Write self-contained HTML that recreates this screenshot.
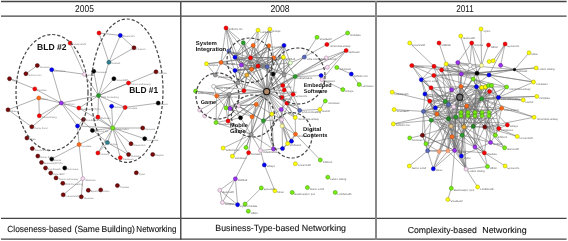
<!DOCTYPE html>
<html><head><meta charset="utf-8"><title>Networking</title>
<style>
html,body{margin:0;padding:0;background:#fff;}
text{text-rendering:geometricPrecision;}
body{width:568px;height:241px;overflow:hidden;position:relative;}
svg{position:absolute;left:0;top:0;display:block;}
.l1{fill:#7a7a7a;font-size:2.5px;}
.h{font-family:"Liberation Sans",Arial,sans-serif;fill:#111;}
.t{font-family:"Liberation Sans",Arial,sans-serif;fill:#111;stroke:#111;stroke-width:0.1px;}
</style></head><body>
<svg width="568" height="241" viewBox="0 0 568 241">
<rect width="568" height="241" fill="#fff"/>
<g stroke="#6e6e6e" stroke-width="0.55" fill="none">
<line x1="37.3" y1="65.5" x2="25.9" y2="73.7"/>
<line x1="51.7" y1="69.7" x2="84.4" y2="74.3"/>
<line x1="70.1" y1="43.1" x2="84.4" y2="74.3"/>
<line x1="99.0" y1="33.0" x2="120.3" y2="35.4"/>
<line x1="99.0" y1="33.0" x2="108.9" y2="62.3"/>
<line x1="120.3" y1="35.4" x2="108.9" y2="62.3"/>
<line x1="120.3" y1="35.4" x2="134.0" y2="47.8"/>
<line x1="134.0" y1="47.8" x2="108.9" y2="62.3"/>
<line x1="108.9" y1="62.3" x2="98.5" y2="95.6"/>
<line x1="9.5" y1="78.7" x2="34.8" y2="88.9"/>
<line x1="34.8" y1="88.9" x2="61.3" y2="103.0"/>
<line x1="38.8" y1="97.9" x2="8.0" y2="109.8"/>
<line x1="38.8" y1="97.9" x2="61.3" y2="103.0"/>
<line x1="38.8" y1="97.9" x2="39.3" y2="115.8"/>
<line x1="61.3" y1="103.0" x2="39.3" y2="115.8"/>
<line x1="61.3" y1="103.0" x2="31.8" y2="126.8"/>
<line x1="8.0" y1="109.8" x2="31.8" y2="126.8"/>
<line x1="61.3" y1="103.0" x2="51.7" y2="69.7"/>
<line x1="61.3" y1="103.0" x2="98.5" y2="95.6"/>
<line x1="98.5" y1="95.6" x2="93.7" y2="71.3"/>
<line x1="98.5" y1="95.6" x2="113.9" y2="78.7"/>
<line x1="98.5" y1="95.6" x2="128.5" y2="83.0"/>
<line x1="98.5" y1="95.6" x2="156.0" y2="71.8"/>
<line x1="98.5" y1="95.6" x2="125.1" y2="107.4"/>
<line x1="98.5" y1="95.6" x2="97.9" y2="117.1"/>
<line x1="98.5" y1="95.6" x2="112.8" y2="128.0"/>
<line x1="98.5" y1="95.6" x2="84.4" y2="74.3"/>
<line x1="125.1" y1="107.4" x2="158.2" y2="103.1"/>
<line x1="125.1" y1="107.4" x2="112.8" y2="128.0"/>
<line x1="112.8" y1="128.0" x2="142.7" y2="128.0"/>
<line x1="112.8" y1="128.0" x2="144.7" y2="138.7"/>
<line x1="112.8" y1="128.0" x2="131.0" y2="143.7"/>
<line x1="112.8" y1="128.0" x2="107.4" y2="142.6"/>
<line x1="112.8" y1="128.0" x2="120.3" y2="157.8"/>
<line x1="112.8" y1="128.0" x2="128.6" y2="154.6"/>
<line x1="112.8" y1="128.0" x2="92.4" y2="130.4"/>
<line x1="107.4" y1="142.6" x2="97.9" y2="152.9"/>
<line x1="79.1" y1="144.6" x2="51.7" y2="159.1"/>
<line x1="79.1" y1="144.6" x2="112.8" y2="128.0"/>
<line x1="79.1" y1="144.6" x2="82.8" y2="178.6"/>
<line x1="82.8" y1="178.6" x2="63.2" y2="194.8"/>
<line x1="82.8" y1="178.6" x2="81.3" y2="196.8"/>
<line x1="112.8" y1="128.0" x2="97.9" y2="117.1"/>
<line x1="112.8" y1="128.0" x2="111.6" y2="106.3"/>
<line x1="61.3" y1="103.0" x2="78.9" y2="108.1"/>
<line x1="83.5" y1="119.4" x2="77.5" y2="126.0"/>
<line x1="77.5" y1="126.0" x2="79.1" y2="144.6"/>
<line x1="112.8" y1="128.0" x2="77.5" y2="126.0"/>
<line x1="61.3" y1="103.0" x2="107.4" y2="142.6"/>
<line x1="107.4" y1="142.6" x2="128.6" y2="154.6"/>
<line x1="78.9" y1="108.1" x2="112.8" y2="128.0"/>
<line x1="98.5" y1="95.6" x2="78.9" y2="108.1"/>
<line x1="112.8" y1="128.0" x2="97.9" y2="152.9"/>
<line x1="61.3" y1="103.0" x2="77.5" y2="126.0"/>
<line x1="226.0" y1="27.9" x2="221.0" y2="62.5"/>
<line x1="226.0" y1="27.9" x2="228.7" y2="51.0"/>
<line x1="226.0" y1="27.9" x2="243.3" y2="42.7"/>
<line x1="226.0" y1="27.9" x2="250.5" y2="57.8"/>
<line x1="258.0" y1="30.2" x2="250.5" y2="57.8"/>
<line x1="258.0" y1="30.2" x2="235.0" y2="57.2"/>
<line x1="269.9" y1="29.2" x2="273.6" y2="57.8"/>
<line x1="269.9" y1="29.2" x2="253.2" y2="45.4"/>
<line x1="243.3" y1="42.7" x2="235.0" y2="57.2"/>
<line x1="243.3" y1="42.7" x2="250.5" y2="57.8"/>
<line x1="253.2" y1="45.4" x2="250.5" y2="57.8"/>
<line x1="268.8" y1="45.8" x2="250.5" y2="57.8"/>
<line x1="268.8" y1="45.8" x2="258.0" y2="66.1"/>
<line x1="284.0" y1="45.4" x2="273.6" y2="57.8"/>
<line x1="228.7" y1="51.0" x2="235.0" y2="57.2"/>
<line x1="228.7" y1="51.0" x2="221.0" y2="62.5"/>
<line x1="235.0" y1="57.2" x2="250.5" y2="57.8"/>
<line x1="250.5" y1="57.8" x2="241.4" y2="65.0"/>
<line x1="250.5" y1="57.8" x2="258.0" y2="66.1"/>
<line x1="250.5" y1="57.8" x2="251.6" y2="69.2"/>
<line x1="250.5" y1="57.8" x2="267.2" y2="66.7"/>
<line x1="273.6" y1="57.8" x2="258.0" y2="66.1"/>
<line x1="283.4" y1="57.2" x2="258.0" y2="66.1"/>
<line x1="221.0" y1="62.5" x2="206.5" y2="63.8"/>
<line x1="221.0" y1="62.5" x2="235.0" y2="70.5"/>
<line x1="241.4" y1="65.0" x2="251.6" y2="69.2"/>
<line x1="241.4" y1="65.0" x2="235.0" y2="70.5"/>
<line x1="258.0" y1="66.1" x2="251.6" y2="69.2"/>
<line x1="258.0" y1="66.1" x2="267.2" y2="66.7"/>
<line x1="251.6" y1="69.2" x2="246.8" y2="75.0"/>
<line x1="235.0" y1="70.5" x2="246.8" y2="75.0"/>
<line x1="267.2" y1="66.7" x2="273.0" y2="74.1"/>
<line x1="246.8" y1="75.0" x2="266.7" y2="91.6"/>
<line x1="273.0" y1="74.1" x2="266.7" y2="91.6"/>
<line x1="284.2" y1="75.0" x2="266.7" y2="91.6"/>
<line x1="290.4" y1="62.8" x2="266.7" y2="91.6"/>
<line x1="266.7" y1="91.6" x2="243.9" y2="90.7"/>
<line x1="266.7" y1="91.6" x2="282.7" y2="85.5"/>
<line x1="266.7" y1="91.6" x2="284.2" y2="90.1"/>
<line x1="266.7" y1="91.6" x2="281.7" y2="97.4"/>
<line x1="266.7" y1="91.6" x2="293.1" y2="94.3"/>
<line x1="266.7" y1="91.6" x2="286.9" y2="103.2"/>
<line x1="266.7" y1="91.6" x2="256.3" y2="104.4"/>
<line x1="266.7" y1="91.6" x2="281.3" y2="109.4"/>
<line x1="266.7" y1="91.6" x2="238.0" y2="82.8"/>
<line x1="266.7" y1="91.6" x2="241.4" y2="65.0"/>
<line x1="266.7" y1="91.6" x2="258.0" y2="66.1"/>
<line x1="266.7" y1="91.6" x2="251.6" y2="69.2"/>
<line x1="266.7" y1="91.6" x2="267.2" y2="66.7"/>
<line x1="266.7" y1="91.6" x2="251.2" y2="134.5"/>
<line x1="266.7" y1="91.6" x2="263.4" y2="120.8"/>
<line x1="266.7" y1="91.6" x2="252.0" y2="116.8"/>
<line x1="266.7" y1="91.6" x2="271.9" y2="114.1"/>
<line x1="266.7" y1="91.6" x2="230.1" y2="108.5"/>
<line x1="266.7" y1="91.6" x2="226.0" y2="107.9"/>
<line x1="266.7" y1="91.6" x2="250.5" y2="57.8"/>
<line x1="266.7" y1="91.6" x2="304.3" y2="57.1"/>
<line x1="266.7" y1="91.6" x2="290.4" y2="62.8"/>
<line x1="266.7" y1="91.6" x2="284.0" y2="45.4"/>
<line x1="238.0" y1="82.8" x2="213.6" y2="86.4"/>
<line x1="238.0" y1="82.8" x2="215.3" y2="75.0"/>
<line x1="238.0" y1="82.8" x2="229.2" y2="94.3"/>
<line x1="213.6" y1="86.4" x2="216.7" y2="95.9"/>
<line x1="216.7" y1="95.9" x2="229.2" y2="94.3"/>
<line x1="216.7" y1="95.9" x2="226.0" y2="107.9"/>
<line x1="216.7" y1="95.9" x2="216.0" y2="122.6"/>
<line x1="215.3" y1="75.0" x2="221.0" y2="62.5"/>
<line x1="229.2" y1="94.3" x2="230.1" y2="108.5"/>
<line x1="229.2" y1="94.3" x2="266.7" y2="91.6"/>
<line x1="195.5" y1="91.1" x2="229.2" y2="94.3"/>
<line x1="226.0" y1="107.9" x2="238.4" y2="105.8"/>
<line x1="230.1" y1="108.5" x2="238.4" y2="105.8"/>
<line x1="238.4" y1="105.8" x2="266.7" y2="91.6"/>
<line x1="204.6" y1="115.8" x2="229.2" y2="94.3"/>
<line x1="199.7" y1="110.0" x2="229.2" y2="94.3"/>
<line x1="228.0" y1="121.0" x2="251.2" y2="134.5"/>
<line x1="240.5" y1="117.8" x2="251.2" y2="134.5"/>
<line x1="252.0" y1="116.8" x2="251.2" y2="134.5"/>
<line x1="251.2" y1="134.5" x2="216.0" y2="122.6"/>
<line x1="251.2" y1="134.5" x2="263.4" y2="120.8"/>
<line x1="251.2" y1="134.5" x2="260.6" y2="150.6"/>
<line x1="251.2" y1="134.5" x2="246.0" y2="147.5"/>
<line x1="251.2" y1="134.5" x2="248.6" y2="152.7"/>
<line x1="251.2" y1="134.5" x2="223.1" y2="148.1"/>
<line x1="251.2" y1="134.5" x2="232.4" y2="156.3"/>
<line x1="251.2" y1="134.5" x2="273.5" y2="149.0"/>
<line x1="251.2" y1="134.5" x2="271.9" y2="114.1"/>
<line x1="263.4" y1="120.8" x2="271.9" y2="114.1"/>
<line x1="263.4" y1="120.8" x2="281.7" y2="119.7"/>
<line x1="271.9" y1="114.1" x2="281.7" y2="119.7"/>
<line x1="281.7" y1="119.7" x2="282.1" y2="126.0"/>
<line x1="282.1" y1="126.0" x2="295.5" y2="134.3"/>
<line x1="282.1" y1="126.0" x2="287.6" y2="143.5"/>
<line x1="295.2" y1="117.6" x2="299.7" y2="110.4"/>
<line x1="299.7" y1="110.4" x2="319.9" y2="109.4"/>
<line x1="319.9" y1="109.4" x2="325.3" y2="101.0"/>
<line x1="295.5" y1="134.3" x2="291.5" y2="141.2"/>
<line x1="295.5" y1="134.3" x2="287.6" y2="143.5"/>
<line x1="291.5" y1="141.2" x2="282.5" y2="148.6"/>
<line x1="287.6" y1="143.5" x2="282.5" y2="148.6"/>
<line x1="282.5" y1="148.6" x2="273.5" y2="149.0"/>
<line x1="273.5" y1="149.0" x2="260.6" y2="150.6"/>
<line x1="260.6" y1="150.6" x2="264.3" y2="164.9"/>
<line x1="264.3" y1="164.9" x2="274.9" y2="190.8"/>
<line x1="248.6" y1="152.7" x2="235.4" y2="178.8"/>
<line x1="235.4" y1="178.8" x2="219.8" y2="190.2"/>
<line x1="235.4" y1="178.8" x2="222.4" y2="202.5"/>
<line x1="235.4" y1="178.8" x2="237.6" y2="204.7"/>
<line x1="219.8" y1="190.2" x2="222.4" y2="202.5"/>
<line x1="219.8" y1="190.2" x2="237.6" y2="204.7"/>
<line x1="222.4" y1="202.5" x2="237.6" y2="204.7"/>
<line x1="261.3" y1="187.9" x2="245.1" y2="204.1"/>
<line x1="295.5" y1="134.3" x2="320.3" y2="160.0"/>
<line x1="317.0" y1="37.3" x2="304.3" y2="57.1"/>
<line x1="347.6" y1="33.0" x2="326.9" y2="44.4"/>
<line x1="346.1" y1="50.6" x2="326.2" y2="57.9"/>
<line x1="346.1" y1="50.6" x2="322.1" y2="79.7"/>
<line x1="346.1" y1="50.6" x2="327.3" y2="67.3"/>
<line x1="326.2" y1="57.9" x2="266.7" y2="91.6"/>
<line x1="295.2" y1="76.6" x2="266.7" y2="91.6"/>
<line x1="295.2" y1="76.6" x2="321.1" y2="75.6"/>
<line x1="321.1" y1="75.6" x2="322.1" y2="79.7"/>
<line x1="336.8" y1="67.5" x2="351.3" y2="74.1"/>
<line x1="351.3" y1="74.1" x2="359.2" y2="84.5"/>
<line x1="295.2" y1="76.6" x2="282.7" y2="85.5"/>
<line x1="283.4" y1="57.2" x2="284.2" y2="75.0"/>
<line x1="283.4" y1="57.2" x2="266.7" y2="91.6"/>
<line x1="240.5" y1="117.8" x2="266.7" y2="91.6"/>
<line x1="228.0" y1="121.0" x2="266.7" y2="91.6"/>
<line x1="216.0" y1="122.6" x2="240.5" y2="117.8"/>
<line x1="195.5" y1="91.1" x2="216.7" y2="95.9"/>
<line x1="206.5" y1="63.8" x2="215.3" y2="75.0"/>
<line x1="232.4" y1="156.3" x2="266.7" y2="91.6"/>
<line x1="246.0" y1="147.5" x2="266.7" y2="91.6"/>
<line x1="286.9" y1="103.2" x2="299.7" y2="110.4"/>
<line x1="281.3" y1="109.4" x2="295.2" y2="117.6"/>
<line x1="293.1" y1="94.3" x2="295.2" y2="76.6"/>
<line x1="281.3" y1="109.4" x2="281.7" y2="119.7"/>
<line x1="256.3" y1="104.4" x2="271.9" y2="114.1"/>
<line x1="295.2" y1="117.6" x2="295.5" y2="134.3"/>
<line x1="284.2" y1="90.1" x2="295.2" y2="76.6"/>
<line x1="243.3" y1="42.7" x2="241.4" y2="65.0"/>
<line x1="243.3" y1="42.7" x2="251.6" y2="69.2"/>
<line x1="253.2" y1="45.4" x2="235.0" y2="57.2"/>
<line x1="253.2" y1="45.4" x2="241.4" y2="65.0"/>
<line x1="253.2" y1="45.4" x2="258.0" y2="66.1"/>
<line x1="253.2" y1="45.4" x2="267.2" y2="66.7"/>
<line x1="268.8" y1="45.8" x2="241.4" y2="65.0"/>
<line x1="268.8" y1="45.8" x2="251.6" y2="69.2"/>
<line x1="268.8" y1="45.8" x2="246.8" y2="75.0"/>
<line x1="284.0" y1="45.4" x2="250.5" y2="57.8"/>
<line x1="284.0" y1="45.4" x2="251.6" y2="69.2"/>
<line x1="284.0" y1="45.4" x2="267.2" y2="66.7"/>
<line x1="228.7" y1="51.0" x2="250.5" y2="57.8"/>
<line x1="228.7" y1="51.0" x2="241.4" y2="65.0"/>
<line x1="228.7" y1="51.0" x2="258.0" y2="66.1"/>
<line x1="235.0" y1="57.2" x2="258.0" y2="66.1"/>
<line x1="235.0" y1="57.2" x2="251.6" y2="69.2"/>
<line x1="235.0" y1="57.2" x2="267.2" y2="66.7"/>
<line x1="273.6" y1="57.8" x2="250.5" y2="57.8"/>
<line x1="273.6" y1="57.8" x2="241.4" y2="65.0"/>
<line x1="273.6" y1="57.8" x2="251.6" y2="69.2"/>
<line x1="283.4" y1="57.2" x2="250.5" y2="57.8"/>
<line x1="283.4" y1="57.2" x2="251.6" y2="69.2"/>
<line x1="283.4" y1="57.2" x2="267.2" y2="66.7"/>
<line x1="221.0" y1="62.5" x2="250.5" y2="57.8"/>
<line x1="221.0" y1="62.5" x2="241.4" y2="65.0"/>
<line x1="206.5" y1="63.8" x2="250.5" y2="57.8"/>
<line x1="241.4" y1="65.0" x2="258.0" y2="66.1"/>
<line x1="241.4" y1="65.0" x2="267.2" y2="66.7"/>
<line x1="258.0" y1="66.1" x2="235.0" y2="70.5"/>
<line x1="251.6" y1="69.2" x2="235.0" y2="70.5"/>
<line x1="235.0" y1="70.5" x2="267.2" y2="66.7"/>
<line x1="246.8" y1="75.0" x2="258.0" y2="66.1"/>
<line x1="246.8" y1="75.0" x2="267.2" y2="66.7"/>
<line x1="273.0" y1="74.1" x2="250.5" y2="57.8"/>
<line x1="273.0" y1="74.1" x2="258.0" y2="66.1"/>
<line x1="284.2" y1="75.0" x2="258.0" y2="66.1"/>
<line x1="284.2" y1="75.0" x2="250.5" y2="57.8"/>
<line x1="238.0" y1="82.8" x2="250.5" y2="57.8"/>
<line x1="238.0" y1="82.8" x2="258.0" y2="66.1"/>
<line x1="243.9" y1="90.7" x2="250.5" y2="57.8"/>
<line x1="243.9" y1="90.7" x2="258.0" y2="66.1"/>
<line x1="258.0" y1="30.2" x2="258.0" y2="66.1"/>
<line x1="269.9" y1="29.2" x2="258.0" y2="66.1"/>
<line x1="269.9" y1="29.2" x2="250.5" y2="57.8"/>
<line x1="226.0" y1="27.9" x2="235.0" y2="57.2"/>
<line x1="226.0" y1="27.9" x2="241.4" y2="65.0"/>
<line x1="268.8" y1="45.8" x2="267.2" y2="66.7"/>
<line x1="273.6" y1="57.8" x2="267.2" y2="66.7"/>
<line x1="266.7" y1="91.6" x2="235.0" y2="57.2"/>
<line x1="266.7" y1="91.6" x2="235.0" y2="70.5"/>
<line x1="266.7" y1="91.6" x2="228.7" y2="51.0"/>
<line x1="266.7" y1="91.6" x2="253.2" y2="45.4"/>
<line x1="266.7" y1="91.6" x2="243.3" y2="42.7"/>
<line x1="266.7" y1="91.6" x2="273.6" y2="57.8"/>
<line x1="266.7" y1="91.6" x2="283.4" y2="57.2"/>
<line x1="266.7" y1="91.6" x2="268.8" y2="45.8"/>
<line x1="266.7" y1="91.6" x2="216.7" y2="95.9"/>
<line x1="266.7" y1="91.6" x2="213.6" y2="86.4"/>
<line x1="266.7" y1="91.6" x2="228.0" y2="121.0"/>
<line x1="266.7" y1="91.6" x2="260.6" y2="150.6"/>
<line x1="266.7" y1="91.6" x2="273.5" y2="149.0"/>
<line x1="266.7" y1="91.6" x2="295.2" y2="117.6"/>
<line x1="266.7" y1="91.6" x2="299.7" y2="110.4"/>
<line x1="266.7" y1="91.6" x2="282.1" y2="126.0"/>
<line x1="266.7" y1="91.6" x2="281.7" y2="119.7"/>
<line x1="266.7" y1="91.6" x2="295.5" y2="134.3"/>
<line x1="266.7" y1="91.6" x2="295.2" y2="76.6"/>
<line x1="229.2" y1="94.3" x2="213.6" y2="86.4"/>
<line x1="229.2" y1="94.3" x2="226.0" y2="107.9"/>
<line x1="229.2" y1="94.3" x2="216.0" y2="122.6"/>
<line x1="238.0" y1="82.8" x2="216.7" y2="95.9"/>
<line x1="238.0" y1="82.8" x2="246.8" y2="75.0"/>
<line x1="238.0" y1="82.8" x2="235.0" y2="70.5"/>
<line x1="238.0" y1="82.8" x2="241.4" y2="65.0"/>
<line x1="243.9" y1="90.7" x2="238.0" y2="82.8"/>
<line x1="243.9" y1="90.7" x2="246.8" y2="75.0"/>
<line x1="243.9" y1="90.7" x2="229.2" y2="94.3"/>
<line x1="228.0" y1="121.0" x2="229.2" y2="94.3"/>
<line x1="240.5" y1="117.8" x2="230.1" y2="108.5"/>
<line x1="252.0" y1="116.8" x2="238.4" y2="105.8"/>
<line x1="263.4" y1="120.8" x2="238.4" y2="105.8"/>
<line x1="256.3" y1="104.4" x2="238.4" y2="105.8"/>
<line x1="256.3" y1="104.4" x2="252.0" y2="116.8"/>
<line x1="256.3" y1="104.4" x2="240.5" y2="117.8"/>
<line x1="251.2" y1="134.5" x2="256.3" y2="104.4"/>
<line x1="273.5" y1="149.0" x2="263.4" y2="120.8"/>
<line x1="282.5" y1="148.6" x2="282.1" y2="126.0"/>
<line x1="291.5" y1="141.2" x2="282.1" y2="126.0"/>
<line x1="291.5" y1="141.2" x2="281.7" y2="119.7"/>
<line x1="287.6" y1="143.5" x2="281.7" y2="119.7"/>
<line x1="273.5" y1="149.0" x2="271.9" y2="114.1"/>
<line x1="282.7" y1="85.5" x2="273.0" y2="74.1"/>
<line x1="284.2" y1="90.1" x2="284.2" y2="75.0"/>
<line x1="281.7" y1="97.4" x2="273.0" y2="74.1"/>
<line x1="293.1" y1="94.3" x2="284.2" y2="75.0"/>
<line x1="286.9" y1="103.2" x2="273.0" y2="74.1"/>
<line x1="304.3" y1="57.1" x2="284.2" y2="75.0"/>
<line x1="304.3" y1="57.1" x2="290.4" y2="62.8"/>
<line x1="290.4" y1="62.8" x2="284.2" y2="75.0"/>
<line x1="284.0" y1="45.4" x2="290.4" y2="62.8"/>
<line x1="283.4" y1="57.2" x2="290.4" y2="62.8"/>
<line x1="273.6" y1="57.8" x2="284.2" y2="75.0"/>
<line x1="326.9" y1="44.4" x2="304.3" y2="57.1"/>
<line x1="326.2" y1="57.9" x2="295.2" y2="76.6"/>
<line x1="346.1" y1="50.6" x2="295.2" y2="76.6"/>
<line x1="327.3" y1="67.3" x2="295.2" y2="76.6"/>
<line x1="322.1" y1="79.7" x2="342.8" y2="89.6"/>
<line x1="409.7" y1="43.0" x2="434.0" y2="66.3"/>
<line x1="439.0" y1="43.0" x2="446.2" y2="64.0"/>
<line x1="460.7" y1="36.1" x2="470.0" y2="65.5"/>
<line x1="471.7" y1="43.0" x2="470.0" y2="65.5"/>
<line x1="471.7" y1="43.0" x2="481.5" y2="65.4"/>
<line x1="471.7" y1="43.0" x2="457.8" y2="62.6"/>
<line x1="481.0" y1="29.0" x2="481.5" y2="65.4"/>
<line x1="488.5" y1="45.0" x2="481.5" y2="65.4"/>
<line x1="505.1" y1="44.0" x2="500.6" y2="65.3"/>
<line x1="505.1" y1="44.0" x2="493.2" y2="60.8"/>
<line x1="529.0" y1="52.8" x2="514.5" y2="69.6"/>
<line x1="536.1" y1="67.9" x2="514.5" y2="69.6"/>
<line x1="411.8" y1="65.6" x2="421.3" y2="79.7"/>
<line x1="434.0" y1="66.3" x2="421.3" y2="79.7"/>
<line x1="421.3" y1="79.7" x2="424.9" y2="94.0"/>
<line x1="424.9" y1="94.0" x2="429.7" y2="101.1"/>
<line x1="392.1" y1="92.2" x2="429.7" y2="101.1"/>
<line x1="394.1" y1="109.6" x2="423.4" y2="111.4"/>
<line x1="393.3" y1="123.9" x2="431.2" y2="120.2"/>
<line x1="409.7" y1="138.0" x2="422.4" y2="135.3"/>
<line x1="433.8" y1="75.4" x2="459.8" y2="97.2"/>
<line x1="441.6" y1="70.0" x2="459.8" y2="97.2"/>
<line x1="431.0" y1="87.8" x2="459.8" y2="97.2"/>
<line x1="446.2" y1="64.0" x2="459.8" y2="97.2"/>
<line x1="457.8" y1="62.6" x2="459.8" y2="97.2"/>
<line x1="470.0" y1="65.5" x2="459.8" y2="97.2"/>
<line x1="481.5" y1="65.4" x2="459.8" y2="97.2"/>
<line x1="461.4" y1="73.9" x2="459.8" y2="97.2"/>
<line x1="477.0" y1="73.2" x2="459.8" y2="97.2"/>
<line x1="473.2" y1="79.1" x2="459.8" y2="97.2"/>
<line x1="461.0" y1="86.6" x2="459.8" y2="97.2"/>
<line x1="476.4" y1="86.8" x2="459.8" y2="97.2"/>
<line x1="481.7" y1="87.6" x2="459.8" y2="97.2"/>
<line x1="451.6" y1="89.7" x2="459.8" y2="97.2"/>
<line x1="445.4" y1="101.4" x2="459.8" y2="97.2"/>
<line x1="481.6" y1="98.7" x2="459.8" y2="97.2"/>
<line x1="466.7" y1="106.0" x2="459.8" y2="97.2"/>
<line x1="453.7" y1="106.8" x2="459.8" y2="97.2"/>
<line x1="435.4" y1="107.7" x2="459.8" y2="97.2"/>
<line x1="448.5" y1="104.6" x2="459.8" y2="97.2"/>
<line x1="429.7" y1="101.1" x2="459.8" y2="97.2"/>
<line x1="424.9" y1="94.0" x2="459.8" y2="97.2"/>
<line x1="423.4" y1="111.4" x2="459.8" y2="97.2"/>
<line x1="431.2" y1="120.2" x2="459.8" y2="97.2"/>
<line x1="436.9" y1="114.1" x2="459.8" y2="97.2"/>
<line x1="448.5" y1="118.7" x2="459.8" y2="97.2"/>
<line x1="455.7" y1="117.1" x2="459.8" y2="97.2"/>
<line x1="451.0" y1="126.2" x2="459.8" y2="97.2"/>
<line x1="464.0" y1="126.9" x2="459.8" y2="97.2"/>
<line x1="473.2" y1="126.4" x2="459.8" y2="97.2"/>
<line x1="484.8" y1="127.1" x2="459.8" y2="97.2"/>
<line x1="452.0" y1="136.7" x2="459.8" y2="97.2"/>
<line x1="462.2" y1="135.2" x2="459.8" y2="97.2"/>
<line x1="427.6" y1="150.8" x2="459.8" y2="97.2"/>
<line x1="489.0" y1="75.0" x2="459.8" y2="97.2"/>
<line x1="477.0" y1="73.2" x2="489.0" y2="75.0"/>
<line x1="489.0" y1="75.0" x2="514.5" y2="69.6"/>
<line x1="514.5" y1="69.6" x2="533.5" y2="82.0"/>
<line x1="514.5" y1="69.6" x2="500.6" y2="65.3"/>
<line x1="489.0" y1="75.0" x2="506.6" y2="87.0"/>
<line x1="506.6" y1="87.0" x2="498.5" y2="97.4"/>
<line x1="498.5" y1="97.4" x2="536.8" y2="96.4"/>
<line x1="498.5" y1="97.4" x2="523.2" y2="100.0"/>
<line x1="481.6" y1="98.7" x2="498.5" y2="97.4"/>
<line x1="481.6" y1="98.7" x2="501.7" y2="108.3"/>
<line x1="501.7" y1="108.3" x2="534.1" y2="117.2"/>
<line x1="501.7" y1="108.3" x2="484.8" y2="127.1"/>
<line x1="484.8" y1="127.1" x2="498.9" y2="128.5"/>
<line x1="498.9" y1="128.5" x2="507.4" y2="124.9"/>
<line x1="498.9" y1="128.5" x2="517.2" y2="136.4"/>
<line x1="498.9" y1="128.5" x2="495.4" y2="135.2"/>
<line x1="495.4" y1="135.2" x2="490.6" y2="142.5"/>
<line x1="490.6" y1="142.5" x2="504.6" y2="147.8"/>
<line x1="475.0" y1="147.0" x2="484.4" y2="152.9"/>
<line x1="484.4" y1="152.9" x2="487.5" y2="166.6"/>
<line x1="484.4" y1="152.9" x2="505.1" y2="166.0"/>
<line x1="487.5" y1="166.6" x2="466.1" y2="169.1"/>
<line x1="454.6" y1="150.4" x2="451.3" y2="188.3"/>
<line x1="451.3" y1="188.3" x2="447.8" y2="199.5"/>
<line x1="466.1" y1="169.1" x2="477.6" y2="187.0"/>
<line x1="466.1" y1="169.1" x2="452.0" y2="136.7"/>
<line x1="427.6" y1="150.8" x2="409.3" y2="166.0"/>
<line x1="427.6" y1="150.8" x2="433.3" y2="168.8"/>
<line x1="433.3" y1="168.8" x2="451.0" y2="126.2"/>
<line x1="422.4" y1="135.3" x2="425.9" y2="143.8"/>
<line x1="425.9" y1="143.8" x2="427.6" y2="150.8"/>
<line x1="431.2" y1="120.2" x2="455.7" y2="117.1"/>
<line x1="451.0" y1="126.2" x2="454.6" y2="150.4"/>
<line x1="464.0" y1="126.9" x2="466.1" y2="169.1"/>
<line x1="473.2" y1="126.4" x2="475.0" y2="147.0"/>
<line x1="448.5" y1="118.7" x2="439.0" y2="151.4"/>
<line x1="447.9" y1="150.8" x2="455.7" y2="117.1"/>
<line x1="436.9" y1="114.1" x2="451.0" y2="126.2"/>
<line x1="445.4" y1="101.4" x2="451.0" y2="126.2"/>
<line x1="481.6" y1="98.7" x2="473.2" y2="126.4"/>
<line x1="461.0" y1="86.6" x2="464.0" y2="126.9"/>
<line x1="476.4" y1="86.8" x2="473.2" y2="126.4"/>
<line x1="491.6" y1="85.5" x2="498.5" y2="97.4"/>
<line x1="488.5" y1="85.5" x2="481.6" y2="98.7"/>
<line x1="485.4" y1="87.0" x2="484.8" y2="127.1"/>
<line x1="489.6" y1="91.6" x2="481.6" y2="98.7"/>
<line x1="461.4" y1="73.9" x2="455.7" y2="117.1"/>
<line x1="451.6" y1="89.7" x2="436.9" y2="114.1"/>
<line x1="448.5" y1="104.6" x2="455.7" y2="117.1"/>
<line x1="435.4" y1="107.7" x2="448.5" y2="118.7"/>
<line x1="453.7" y1="106.8" x2="473.2" y2="126.4"/>
<line x1="466.7" y1="106.0" x2="484.8" y2="127.1"/>
<line x1="445.4" y1="101.4" x2="422.4" y2="135.3"/>
<line x1="448.5" y1="118.7" x2="427.6" y2="150.8"/>
<line x1="455.7" y1="117.1" x2="454.6" y2="150.4"/>
<line x1="451.0" y1="126.2" x2="447.9" y2="150.8"/>
<line x1="464.0" y1="126.9" x2="490.6" y2="142.5"/>
<line x1="473.2" y1="126.4" x2="484.4" y2="152.9"/>
<line x1="452.0" y1="136.7" x2="454.6" y2="150.4"/>
<line x1="462.2" y1="135.2" x2="461.4" y2="156.0"/>
<line x1="393.3" y1="123.9" x2="436.9" y2="114.1"/>
<line x1="506.6" y1="87.0" x2="481.6" y2="98.7"/>
<line x1="473.2" y1="79.1" x2="481.6" y2="98.7"/>
<line x1="481.7" y1="87.6" x2="473.2" y2="126.4"/>
<line x1="485.4" y1="87.0" x2="455.7" y2="117.1"/>
<line x1="481.6" y1="98.7" x2="507.4" y2="124.9"/>
<line x1="466.7" y1="106.0" x2="495.4" y2="135.2"/>
<line x1="421.3" y1="79.7" x2="473.2" y2="126.4"/>
<line x1="424.9" y1="94.0" x2="454.6" y2="150.4"/>
<line x1="429.7" y1="101.1" x2="447.9" y2="150.8"/>
<line x1="433.8" y1="75.4" x2="475.0" y2="147.0"/>
<line x1="431.0" y1="87.8" x2="484.4" y2="152.9"/>
<line x1="435.4" y1="107.7" x2="461.4" y2="156.0"/>
<line x1="423.4" y1="111.4" x2="462.2" y2="135.2"/>
<line x1="431.2" y1="120.2" x2="452.0" y2="136.7"/>
<line x1="436.9" y1="114.1" x2="466.1" y2="169.1"/>
<line x1="422.4" y1="135.3" x2="454.6" y2="150.4"/>
<line x1="441.6" y1="70.0" x2="451.0" y2="126.2"/>
<line x1="434.0" y1="66.3" x2="448.5" y2="118.7"/>
<line x1="448.5" y1="104.6" x2="466.1" y2="169.1"/>
<line x1="445.4" y1="101.4" x2="461.4" y2="156.0"/>
<line x1="433.8" y1="75.4" x2="477.0" y2="73.2"/>
<line x1="441.6" y1="70.0" x2="477.0" y2="73.2"/>
<line x1="434.0" y1="66.3" x2="461.4" y2="73.9"/>
<line x1="434.0" y1="66.3" x2="477.0" y2="73.2"/>
<line x1="441.6" y1="70.0" x2="473.2" y2="79.1"/>
<line x1="433.8" y1="75.4" x2="476.4" y2="86.8"/>
<line x1="431.0" y1="87.8" x2="461.0" y2="86.6"/>
<line x1="446.2" y1="64.0" x2="461.4" y2="73.9"/>
<line x1="446.2" y1="64.0" x2="470.0" y2="65.5"/>
<line x1="457.8" y1="62.6" x2="470.0" y2="65.5"/>
<line x1="457.8" y1="62.6" x2="461.4" y2="73.9"/>
<line x1="457.8" y1="62.6" x2="481.5" y2="65.4"/>
<line x1="470.0" y1="65.5" x2="477.0" y2="73.2"/>
<line x1="481.5" y1="65.4" x2="477.0" y2="73.2"/>
<line x1="481.5" y1="65.4" x2="461.4" y2="73.9"/>
<line x1="477.0" y1="73.2" x2="476.4" y2="86.8"/>
<line x1="477.0" y1="73.2" x2="481.7" y2="87.6"/>
<line x1="473.2" y1="79.1" x2="476.4" y2="86.8"/>
<line x1="473.2" y1="79.1" x2="488.5" y2="85.5"/>
<line x1="461.0" y1="86.6" x2="451.6" y2="89.7"/>
<line x1="461.4" y1="73.9" x2="461.0" y2="86.6"/>
<line x1="476.4" y1="86.8" x2="481.6" y2="98.7"/>
<line x1="481.7" y1="87.6" x2="481.6" y2="98.7"/>
<line x1="451.6" y1="89.7" x2="445.4" y2="101.4"/>
<line x1="451.6" y1="89.7" x2="448.5" y2="104.6"/>
<line x1="445.4" y1="101.4" x2="435.4" y2="107.7"/>
<line x1="445.4" y1="101.4" x2="448.5" y2="104.6"/>
<line x1="466.7" y1="106.0" x2="453.7" y2="106.8"/>
<line x1="466.7" y1="106.0" x2="481.6" y2="98.7"/>
<line x1="481.6" y1="98.7" x2="455.7" y2="117.1"/>
<line x1="481.6" y1="98.7" x2="448.5" y2="118.7"/>
<line x1="481.6" y1="98.7" x2="451.0" y2="126.2"/>
<line x1="481.6" y1="98.7" x2="462.2" y2="135.2"/>
<line x1="466.7" y1="106.0" x2="473.2" y2="126.4"/>
<line x1="466.7" y1="106.0" x2="464.0" y2="126.9"/>
<line x1="461.0" y1="86.6" x2="466.7" y2="106.0"/>
<line x1="476.4" y1="86.8" x2="466.7" y2="106.0"/>
<line x1="489.6" y1="91.6" x2="484.8" y2="127.1"/>
<line x1="489.6" y1="91.6" x2="473.2" y2="126.4"/>
<line x1="488.5" y1="85.5" x2="464.0" y2="126.9"/>
<line x1="491.6" y1="85.5" x2="498.9" y2="128.5"/>
<line x1="506.6" y1="87.0" x2="473.2" y2="126.4"/>
<line x1="498.5" y1="97.4" x2="484.8" y2="127.1"/>
<line x1="498.5" y1="97.4" x2="466.7" y2="106.0"/>
<line x1="501.7" y1="108.3" x2="466.7" y2="106.0"/>
<line x1="501.7" y1="108.3" x2="473.2" y2="126.4"/>
<line x1="435.4" y1="107.7" x2="436.9" y2="114.1"/>
<line x1="423.4" y1="111.4" x2="436.9" y2="114.1"/>
<line x1="423.4" y1="111.4" x2="448.5" y2="118.7"/>
<line x1="431.2" y1="120.2" x2="448.5" y2="118.7"/>
<line x1="431.2" y1="120.2" x2="451.0" y2="126.2"/>
<line x1="422.4" y1="135.3" x2="451.0" y2="126.2"/>
<line x1="422.4" y1="135.3" x2="427.6" y2="150.8"/>
<line x1="425.9" y1="143.8" x2="448.5" y2="118.7"/>
<line x1="436.9" y1="114.1" x2="455.7" y2="117.1"/>
<line x1="448.5" y1="118.7" x2="451.0" y2="126.2"/>
<line x1="455.7" y1="117.1" x2="464.0" y2="126.9"/>
<line x1="451.0" y1="126.2" x2="473.2" y2="126.4"/>
<line x1="464.0" y1="126.9" x2="484.8" y2="127.1"/>
<line x1="448.5" y1="118.7" x2="452.0" y2="136.7"/>
<line x1="455.7" y1="117.1" x2="462.2" y2="135.2"/>
<line x1="451.0" y1="126.2" x2="475.0" y2="147.0"/>
<line x1="464.0" y1="126.9" x2="475.0" y2="147.0"/>
<line x1="473.2" y1="126.4" x2="454.6" y2="150.4"/>
<line x1="484.8" y1="127.1" x2="475.0" y2="147.0"/>
<line x1="452.0" y1="136.7" x2="461.4" y2="156.0"/>
<line x1="462.2" y1="135.2" x2="466.1" y2="169.1"/>
<line x1="452.0" y1="136.7" x2="447.9" y2="150.8"/>
<line x1="462.2" y1="135.2" x2="490.6" y2="142.5"/>
<line x1="475.0" y1="147.0" x2="487.5" y2="166.6"/>
<line x1="454.6" y1="150.4" x2="433.3" y2="168.8"/>
<line x1="447.9" y1="150.8" x2="433.3" y2="168.8"/>
<line x1="439.0" y1="151.4" x2="433.3" y2="168.8"/>
<line x1="439.0" y1="151.4" x2="427.6" y2="150.8"/>
<line x1="447.9" y1="150.8" x2="466.1" y2="169.1"/>
<line x1="454.6" y1="150.4" x2="466.1" y2="169.1"/>
<line x1="461.4" y1="156.0" x2="466.1" y2="169.1"/>
<line x1="455.7" y1="117.1" x2="484.4" y2="152.9"/>
<line x1="448.5" y1="118.7" x2="461.4" y2="156.0"/>
<line x1="451.0" y1="126.2" x2="439.0" y2="151.4"/>
<line x1="464.0" y1="126.9" x2="454.6" y2="150.4"/>
<line x1="436.9" y1="114.1" x2="448.5" y2="118.7"/>
<line x1="435.4" y1="107.7" x2="423.4" y2="111.4"/>
<line x1="429.7" y1="101.1" x2="423.4" y2="111.4"/>
<line x1="424.9" y1="94.0" x2="423.4" y2="111.4"/>
<line x1="431.0" y1="87.8" x2="435.4" y2="107.7"/>
<line x1="429.7" y1="101.1" x2="435.4" y2="107.7"/>
<line x1="431.0" y1="87.8" x2="445.4" y2="101.4"/>
<line x1="433.8" y1="75.4" x2="445.4" y2="101.4"/>
<line x1="441.6" y1="70.0" x2="451.6" y2="89.7"/>
<line x1="434.0" y1="66.3" x2="451.6" y2="89.7"/>
<line x1="446.2" y1="64.0" x2="451.6" y2="89.7"/>
<line x1="411.8" y1="65.6" x2="433.8" y2="75.4"/>
<line x1="411.8" y1="65.6" x2="431.0" y2="87.8"/>
<line x1="421.3" y1="79.7" x2="431.0" y2="87.8"/>
<line x1="421.3" y1="79.7" x2="433.8" y2="75.4"/>
<line x1="424.9" y1="94.0" x2="431.0" y2="87.8"/>
<line x1="434.0" y1="66.3" x2="441.6" y2="70.0"/>
<line x1="441.6" y1="70.0" x2="446.2" y2="64.0"/>
<line x1="533.5" y1="82.0" x2="477.0" y2="73.2"/>
<line x1="533.5" y1="82.0" x2="498.5" y2="97.4"/>
<line x1="536.8" y1="96.4" x2="481.6" y2="98.7"/>
<line x1="523.2" y1="100.0" x2="481.6" y2="98.7"/>
<line x1="534.1" y1="117.2" x2="481.6" y2="98.7"/>
<line x1="534.1" y1="117.2" x2="484.8" y2="127.1"/>
<line x1="517.2" y1="136.4" x2="484.8" y2="127.1"/>
<line x1="507.4" y1="124.9" x2="484.8" y2="127.1"/>
<line x1="495.4" y1="135.2" x2="484.8" y2="127.1"/>
<line x1="514.5" y1="69.6" x2="477.0" y2="73.2"/>
<line x1="514.5" y1="69.6" x2="461.4" y2="73.9"/>
<line x1="514.5" y1="69.6" x2="470.0" y2="65.5"/>
<line x1="506.6" y1="87.0" x2="473.2" y2="79.1"/>
<line x1="506.6" y1="87.0" x2="476.4" y2="86.8"/>
<line x1="498.5" y1="97.4" x2="461.0" y2="86.6"/>
<line x1="498.5" y1="97.4" x2="445.4" y2="101.4"/>
<line x1="446.2" y1="64.0" x2="477.0" y2="73.2"/>
<line x1="446.2" y1="64.0" x2="473.2" y2="79.1"/>
<line x1="457.8" y1="62.6" x2="473.2" y2="79.1"/>
<line x1="441.6" y1="70.0" x2="489.0" y2="75.0"/>
<line x1="433.8" y1="75.4" x2="489.0" y2="75.0"/>
<line x1="461.4" y1="73.9" x2="489.0" y2="75.0"/>
<line x1="505.1" y1="44.0" x2="489.0" y2="75.0"/>
<line x1="471.7" y1="43.0" x2="477.0" y2="73.2"/>
<line x1="411.8" y1="65.6" x2="441.6" y2="70.0"/>
<line x1="411.8" y1="65.6" x2="434.0" y2="66.3"/>
<line x1="533.5" y1="82.0" x2="489.0" y2="75.0"/>
<line x1="536.1" y1="67.9" x2="477.0" y2="73.2"/>
<line x1="421.3" y1="79.7" x2="429.7" y2="101.1"/>
<line x1="421.3" y1="79.7" x2="448.5" y2="104.6"/>
<line x1="431.0" y1="87.8" x2="448.5" y2="118.7"/>
<line x1="431.0" y1="87.8" x2="448.5" y2="104.6"/>
<line x1="424.9" y1="94.0" x2="436.9" y2="114.1"/>
<line x1="424.9" y1="94.0" x2="453.7" y2="106.8"/>
<line x1="429.7" y1="101.1" x2="436.9" y2="114.1"/>
<line x1="429.7" y1="101.1" x2="461.0" y2="86.6"/>
<line x1="473.2" y1="79.1" x2="489.6" y2="91.6"/>
<line x1="473.2" y1="79.1" x2="489.0" y2="112.4"/>
<line x1="461.0" y1="86.6" x2="491.6" y2="85.5"/>
<line x1="461.0" y1="86.6" x2="482.0" y2="115.9"/>
<line x1="476.4" y1="86.8" x2="481.7" y2="87.6"/>
<line x1="476.4" y1="86.8" x2="475.0" y2="112.4"/>
<line x1="481.7" y1="87.6" x2="461.0" y2="86.6"/>
<line x1="481.7" y1="87.6" x2="461.0" y2="115.9"/>
<line x1="451.6" y1="89.7" x2="448.5" y2="104.6"/>
<line x1="451.6" y1="89.7" x2="423.4" y2="111.4"/>
<line x1="459.8" y1="97.2" x2="482.0" y2="115.9"/>
<line x1="459.8" y1="97.2" x2="448.5" y2="104.6"/>
<line x1="445.4" y1="101.4" x2="462.2" y2="135.2"/>
<line x1="445.4" y1="101.4" x2="429.7" y2="101.1"/>
<line x1="481.6" y1="98.7" x2="464.0" y2="126.9"/>
<line x1="481.6" y1="98.7" x2="453.7" y2="106.8"/>
<line x1="466.7" y1="106.0" x2="464.0" y2="126.9"/>
<line x1="466.7" y1="106.0" x2="453.7" y2="106.8"/>
<line x1="453.7" y1="106.8" x2="485.4" y2="87.0"/>
<line x1="453.7" y1="106.8" x2="481.7" y2="87.6"/>
<line x1="435.4" y1="107.7" x2="429.7" y2="101.1"/>
<line x1="435.4" y1="107.7" x2="453.7" y2="106.8"/>
<line x1="448.5" y1="104.6" x2="452.0" y2="136.7"/>
<line x1="448.5" y1="104.6" x2="453.7" y2="106.8"/>
<line x1="485.4" y1="87.0" x2="498.5" y2="97.4"/>
<line x1="485.4" y1="87.0" x2="468.0" y2="112.4"/>
<line x1="488.5" y1="85.5" x2="461.0" y2="112.4"/>
<line x1="488.5" y1="85.5" x2="473.2" y2="79.1"/>
<line x1="491.6" y1="85.5" x2="468.0" y2="115.9"/>
<line x1="491.6" y1="85.5" x2="501.7" y2="108.3"/>
<line x1="489.6" y1="91.6" x2="459.8" y2="97.2"/>
<line x1="489.6" y1="91.6" x2="468.0" y2="112.4"/>
<line x1="498.5" y1="97.4" x2="484.8" y2="127.1"/>
<line x1="498.5" y1="97.4" x2="491.6" y2="85.5"/>
<line x1="501.7" y1="108.3" x2="468.0" y2="112.4"/>
<line x1="501.7" y1="108.3" x2="495.4" y2="135.2"/>
<line x1="423.4" y1="111.4" x2="431.2" y2="120.2"/>
<line x1="423.4" y1="111.4" x2="448.5" y2="104.6"/>
<line x1="431.2" y1="120.2" x2="423.4" y2="111.4"/>
<line x1="431.2" y1="120.2" x2="462.2" y2="135.2"/>
<line x1="422.4" y1="135.3" x2="423.4" y2="111.4"/>
<line x1="422.4" y1="135.3" x2="454.6" y2="150.4"/>
<line x1="425.9" y1="143.8" x2="462.2" y2="135.2"/>
<line x1="425.9" y1="143.8" x2="423.4" y2="111.4"/>
<line x1="436.9" y1="114.1" x2="461.0" y2="112.4"/>
<line x1="436.9" y1="114.1" x2="464.0" y2="126.9"/>
<line x1="448.5" y1="118.7" x2="475.0" y2="115.9"/>
<line x1="448.5" y1="118.7" x2="455.7" y2="117.1"/>
<line x1="455.7" y1="117.1" x2="454.6" y2="150.4"/>
<line x1="455.7" y1="117.1" x2="461.0" y2="86.6"/>
<line x1="451.0" y1="126.2" x2="453.7" y2="106.8"/>
<line x1="451.0" y1="126.2" x2="466.7" y2="106.0"/>
<line x1="464.0" y1="126.9" x2="461.4" y2="156.0"/>
<line x1="464.0" y1="126.9" x2="451.6" y2="89.7"/>
<line x1="473.2" y1="126.4" x2="482.0" y2="115.9"/>
<line x1="473.2" y1="126.4" x2="501.7" y2="108.3"/>
<line x1="484.8" y1="127.1" x2="473.2" y2="126.4"/>
<line x1="484.8" y1="127.1" x2="461.0" y2="112.4"/>
<line x1="498.9" y1="128.5" x2="475.0" y2="115.9"/>
<line x1="498.9" y1="128.5" x2="481.6" y2="98.7"/>
<line x1="495.4" y1="135.2" x2="489.0" y2="112.4"/>
<line x1="495.4" y1="135.2" x2="482.0" y2="112.4"/>
<line x1="490.6" y1="142.5" x2="484.8" y2="127.1"/>
<line x1="490.6" y1="142.5" x2="489.0" y2="115.9"/>
<line x1="475.0" y1="147.0" x2="482.0" y2="115.9"/>
<line x1="475.0" y1="147.0" x2="475.0" y2="115.9"/>
<line x1="504.6" y1="147.8" x2="484.8" y2="127.1"/>
<line x1="504.6" y1="147.8" x2="495.4" y2="135.2"/>
<line x1="452.0" y1="136.7" x2="475.0" y2="147.0"/>
<line x1="452.0" y1="136.7" x2="454.6" y2="150.4"/>
<line x1="462.2" y1="135.2" x2="454.6" y2="150.4"/>
<line x1="462.2" y1="135.2" x2="466.7" y2="106.0"/>
<line x1="454.6" y1="150.4" x2="455.7" y2="117.1"/>
<line x1="454.6" y1="150.4" x2="461.0" y2="112.4"/>
<line x1="447.9" y1="150.8" x2="439.0" y2="151.4"/>
<line x1="447.9" y1="150.8" x2="448.5" y2="118.7"/>
<line x1="439.0" y1="151.4" x2="455.7" y2="117.1"/>
<line x1="439.0" y1="151.4" x2="425.9" y2="143.8"/>
<line x1="427.6" y1="150.8" x2="454.6" y2="150.4"/>
<line x1="427.6" y1="150.8" x2="431.2" y2="120.2"/>
<line x1="461.4" y1="156.0" x2="464.0" y2="126.9"/>
<line x1="461.4" y1="156.0" x2="490.6" y2="142.5"/>
<line x1="484.4" y1="152.9" x2="454.6" y2="150.4"/>
<line x1="484.4" y1="152.9" x2="475.0" y2="147.0"/>
<line x1="461.0" y1="112.4" x2="468.0" y2="112.4"/>
<line x1="461.0" y1="112.4" x2="423.4" y2="111.4"/>
<line x1="461.0" y1="115.9" x2="489.6" y2="91.6"/>
<line x1="461.0" y1="115.9" x2="489.0" y2="112.4"/>
<line x1="468.0" y1="112.4" x2="459.8" y2="97.2"/>
<line x1="468.0" y1="112.4" x2="429.7" y2="101.1"/>
<line x1="468.0" y1="115.9" x2="481.7" y2="87.6"/>
<line x1="468.0" y1="115.9" x2="448.5" y2="118.7"/>
<line x1="475.0" y1="112.4" x2="452.0" y2="136.7"/>
<line x1="475.0" y1="112.4" x2="461.0" y2="86.6"/>
<line x1="475.0" y1="115.9" x2="489.0" y2="115.9"/>
<line x1="475.0" y1="115.9" x2="462.2" y2="135.2"/>
<line x1="482.0" y1="112.4" x2="445.4" y2="101.4"/>
<line x1="482.0" y1="112.4" x2="466.7" y2="106.0"/>
<line x1="482.0" y1="115.9" x2="461.0" y2="86.6"/>
<line x1="482.0" y1="115.9" x2="448.5" y2="118.7"/>
<line x1="489.0" y1="112.4" x2="481.6" y2="98.7"/>
<line x1="489.0" y1="112.4" x2="461.0" y2="115.9"/>
<line x1="489.0" y1="115.9" x2="485.4" y2="87.0"/>
<line x1="489.0" y1="115.9" x2="484.4" y2="152.9"/>
<line x1="243.3" y1="42.7" x2="267.2" y2="66.7"/>
<line x1="253.2" y1="45.4" x2="235.0" y2="57.2"/>
<line x1="268.8" y1="45.8" x2="250.5" y2="57.8"/>
<line x1="284.0" y1="45.4" x2="283.4" y2="57.2"/>
<line x1="228.7" y1="51.0" x2="238.0" y2="82.8"/>
<line x1="235.0" y1="57.2" x2="251.6" y2="69.2"/>
<line x1="250.5" y1="57.8" x2="251.6" y2="69.2"/>
<line x1="273.6" y1="57.8" x2="284.2" y2="75.0"/>
<line x1="283.4" y1="57.2" x2="250.5" y2="57.8"/>
<line x1="241.4" y1="65.0" x2="228.7" y2="51.0"/>
<line x1="258.0" y1="66.1" x2="290.4" y2="62.8"/>
<line x1="251.6" y1="69.2" x2="235.0" y2="70.5"/>
<line x1="235.0" y1="70.5" x2="267.2" y2="66.7"/>
<line x1="267.2" y1="66.7" x2="295.2" y2="76.6"/>
<line x1="246.8" y1="75.0" x2="238.0" y2="82.8"/>
<line x1="273.0" y1="74.1" x2="253.2" y2="45.4"/>
<line x1="284.2" y1="75.0" x2="284.0" y2="45.4"/>
<line x1="290.4" y1="62.8" x2="273.0" y2="74.1"/>
<line x1="266.7" y1="91.6" x2="267.2" y2="66.7"/>
<line x1="243.9" y1="90.7" x2="235.0" y2="57.2"/>
<line x1="282.7" y1="85.5" x2="256.3" y2="104.4"/>
<line x1="284.2" y1="90.1" x2="281.7" y2="119.7"/>
<line x1="281.7" y1="97.4" x2="293.1" y2="94.3"/>
<line x1="293.1" y1="94.3" x2="299.7" y2="110.4"/>
<line x1="286.9" y1="103.2" x2="295.2" y2="117.6"/>
<line x1="256.3" y1="104.4" x2="238.4" y2="105.8"/>
<line x1="281.3" y1="109.4" x2="293.1" y2="94.3"/>
<line x1="238.0" y1="82.8" x2="250.5" y2="57.8"/>
<line x1="226.0" y1="107.9" x2="229.2" y2="94.3"/>
<line x1="230.1" y1="108.5" x2="229.2" y2="94.3"/>
<line x1="229.2" y1="94.3" x2="243.9" y2="90.7"/>
<line x1="238.4" y1="105.8" x2="263.4" y2="120.8"/>
<line x1="228.0" y1="121.0" x2="226.0" y2="107.9"/>
<line x1="240.5" y1="117.8" x2="229.2" y2="94.3"/>
<line x1="252.0" y1="116.8" x2="230.1" y2="108.5"/>
<line x1="263.4" y1="120.8" x2="281.3" y2="109.4"/>
<line x1="271.9" y1="114.1" x2="263.4" y2="120.8"/>
<line x1="281.7" y1="119.7" x2="293.1" y2="94.3"/>
<line x1="295.2" y1="117.6" x2="281.7" y2="97.4"/>
<line x1="299.7" y1="110.4" x2="282.7" y2="85.5"/>
<line x1="295.2" y1="76.6" x2="283.4" y2="57.2"/>
<line x1="452.0" y1="109.8" x2="497.0" y2="109.8"/>
<line x1="452.0" y1="118.6" x2="497.0" y2="118.6"/>
<line x1="455.0" y1="122.6" x2="500.0" y2="122.6"/>
</g>
<g stroke-width="0.5">
<circle cx="70.1" cy="43.1" r="2.0" fill="#ff0000" stroke="#a00000"/>
<circle cx="37.3" cy="65.5" r="2.0" fill="#7a0a0a" stroke="#3a0000"/>
<circle cx="25.9" cy="73.7" r="2.0" fill="#7a0a0a" stroke="#3a0000"/>
<circle cx="51.7" cy="69.7" r="2.0" fill="#0000ff" stroke="#00008a"/>
<circle cx="84.4" cy="74.3" r="2.0" fill="#f7dcef" stroke="#9a7f9a"/>
<circle cx="99.0" cy="33.0" r="2.0" fill="#ff0000" stroke="#a00000"/>
<circle cx="120.3" cy="35.4" r="2.0" fill="#0000ff" stroke="#00008a"/>
<circle cx="134.0" cy="47.8" r="2.0" fill="#7a0a0a" stroke="#3a0000"/>
<circle cx="108.9" cy="62.3" r="2.0" fill="#2f7f8f" stroke="#1a4a55"/>
<circle cx="93.7" cy="71.3" r="2.0" fill="#000000" stroke="#000000"/>
<circle cx="156.0" cy="71.8" r="2.0" fill="#7a0a0a" stroke="#3a0000"/>
<circle cx="9.5" cy="78.7" r="2.0" fill="#7a0a0a" stroke="#3a0000"/>
<circle cx="34.8" cy="88.9" r="2.0" fill="#ff0000" stroke="#a00000"/>
<circle cx="38.8" cy="97.9" r="2.0" fill="#ff6a1a" stroke="#b04000"/>
<circle cx="61.3" cy="103.0" r="2.0" fill="#9a33ee" stroke="#5a1090"/>
<circle cx="8.0" cy="109.8" r="2.0" fill="#7a0a0a" stroke="#3a0000"/>
<circle cx="39.3" cy="115.8" r="2.0" fill="#ff0000" stroke="#a00000"/>
<circle cx="31.8" cy="126.8" r="2.0" fill="#7a0a0a" stroke="#3a0000"/>
<circle cx="78.9" cy="108.1" r="2.0" fill="#ff0000" stroke="#a00000"/>
<circle cx="77.5" cy="126.0" r="2.0" fill="#0000ff" stroke="#00008a"/>
<circle cx="83.5" cy="119.4" r="2.0" fill="#7a0a0a" stroke="#3a0000"/>
<circle cx="113.9" cy="78.7" r="2.0" fill="#000000" stroke="#000000"/>
<circle cx="128.5" cy="83.0" r="2.0" fill="#ff0000" stroke="#a00000"/>
<circle cx="98.5" cy="95.6" r="2.0" fill="#2aa02a" stroke="#146414"/>
<circle cx="158.2" cy="103.1" r="2.0" fill="#000000" stroke="#000000"/>
<circle cx="111.6" cy="106.3" r="2.0" fill="#0000ff" stroke="#00008a"/>
<circle cx="125.1" cy="107.4" r="2.0" fill="#ff0000" stroke="#a00000"/>
<circle cx="97.9" cy="117.1" r="2.0" fill="#ff0000" stroke="#a00000"/>
<circle cx="112.8" cy="128.0" r="2.0" fill="#77ee11" stroke="#3f8f00"/>
<circle cx="142.7" cy="128.0" r="2.0" fill="#7a0a0a" stroke="#3a0000"/>
<circle cx="92.4" cy="130.4" r="2.0" fill="#000000" stroke="#000000"/>
<circle cx="144.7" cy="138.7" r="2.0" fill="#000000" stroke="#000000"/>
<circle cx="107.4" cy="142.6" r="2.0" fill="#2f7f8f" stroke="#1a4a55"/>
<circle cx="131.0" cy="143.7" r="2.0" fill="#7a0a0a" stroke="#3a0000"/>
<circle cx="97.9" cy="152.9" r="2.0" fill="#ff0000" stroke="#a00000"/>
<circle cx="128.6" cy="154.6" r="2.0" fill="#7a0a0a" stroke="#3a0000"/>
<circle cx="120.3" cy="157.8" r="2.0" fill="#ff0000" stroke="#a00000"/>
<circle cx="152.7" cy="154.4" r="2.0" fill="#7a0a0a" stroke="#3a0000"/>
<circle cx="136.3" cy="172.8" r="2.0" fill="#7a0a0a" stroke="#3a0000"/>
<circle cx="117.4" cy="185.6" r="2.0" fill="#7a0a0a" stroke="#3a0000"/>
<circle cx="100.7" cy="189.9" r="2.0" fill="#7a0a0a" stroke="#3a0000"/>
<circle cx="88.3" cy="190.3" r="2.0" fill="#7a0a0a" stroke="#3a0000"/>
<circle cx="26.9" cy="138.0" r="2.0" fill="#7a0a0a" stroke="#3a0000"/>
<circle cx="32.3" cy="148.6" r="2.0" fill="#7a0a0a" stroke="#3a0000"/>
<circle cx="37.8" cy="156.1" r="2.0" fill="#7a0a0a" stroke="#3a0000"/>
<circle cx="41.5" cy="162.4" r="2.0" fill="#7a0a0a" stroke="#3a0000"/>
<circle cx="45.5" cy="168.0" r="2.0" fill="#7a0a0a" stroke="#3a0000"/>
<circle cx="50.7" cy="173.0" r="2.0" fill="#7a0a0a" stroke="#3a0000"/>
<circle cx="56.0" cy="177.9" r="2.0" fill="#7a0a0a" stroke="#3a0000"/>
<circle cx="62.8" cy="183.3" r="2.0" fill="#7a0a0a" stroke="#3a0000"/>
<circle cx="51.7" cy="159.1" r="2.0" fill="#000000" stroke="#000000"/>
<circle cx="64.7" cy="168.0" r="2.0" fill="#000000" stroke="#000000"/>
<circle cx="79.1" cy="144.6" r="2.0" fill="#ff6a1a" stroke="#b04000"/>
<circle cx="82.8" cy="178.6" r="2.0" fill="#f7dcef" stroke="#9a7f9a"/>
<circle cx="63.2" cy="194.8" r="2.0" fill="#7a0a0a" stroke="#3a0000"/>
<circle cx="81.3" cy="196.8" r="2.0" fill="#7a0a0a" stroke="#3a0000"/>
<circle cx="226.0" cy="27.9" r="2.0" fill="#ff0000" stroke="#a00000"/>
<circle cx="258.0" cy="30.2" r="2.0" fill="#ffff00" stroke="#a0a000"/>
<circle cx="269.9" cy="29.2" r="2.0" fill="#ffff00" stroke="#a0a000"/>
<circle cx="243.3" cy="42.7" r="2.0" fill="#2aa02a" stroke="#146414"/>
<circle cx="253.2" cy="45.4" r="2.0" fill="#ff6a1a" stroke="#b04000"/>
<circle cx="268.8" cy="45.8" r="2.0" fill="#ff6a1a" stroke="#b04000"/>
<circle cx="284.0" cy="45.4" r="2.0" fill="#0000ff" stroke="#00008a"/>
<circle cx="228.7" cy="51.0" r="2.0" fill="#5a6ab8" stroke="#2a3a80"/>
<circle cx="235.0" cy="57.2" r="2.0" fill="#0000ff" stroke="#00008a"/>
<circle cx="250.5" cy="57.8" r="2.0" fill="#ff0000" stroke="#a00000"/>
<circle cx="273.6" cy="57.8" r="2.0" fill="#ff6a1a" stroke="#b04000"/>
<circle cx="283.4" cy="57.2" r="2.0" fill="#ffff00" stroke="#a0a000"/>
<circle cx="221.0" cy="62.5" r="2.0" fill="#ff6a1a" stroke="#b04000"/>
<circle cx="206.5" cy="63.8" r="2.0" fill="#ffff00" stroke="#a0a000"/>
<circle cx="241.4" cy="65.0" r="2.0" fill="#9a33ee" stroke="#5a1090"/>
<circle cx="258.0" cy="66.1" r="2.0" fill="#ff0000" stroke="#a00000"/>
<circle cx="251.6" cy="69.2" r="2.0" fill="#ff6a1a" stroke="#b04000"/>
<circle cx="235.0" cy="70.5" r="2.0" fill="#0000ff" stroke="#00008a"/>
<circle cx="267.2" cy="66.7" r="2.0" fill="#5a6ab8" stroke="#2a3a80"/>
<circle cx="246.8" cy="75.0" r="2.0" fill="#f0b030" stroke="#906000"/>
<circle cx="273.0" cy="74.1" r="2.0" fill="#000000" stroke="#000000"/>
<circle cx="284.2" cy="75.0" r="2.0" fill="#9a9a9a" stroke="#555555"/>
<circle cx="290.4" cy="62.8" r="2.0" fill="#eaffd8" stroke="#6a9a4a"/>
<circle cx="266.7" cy="91.6" r="3.1" fill="#b08868" stroke="#111111" stroke-width="1.1"/>
<circle cx="243.9" cy="90.7" r="2.0" fill="#ff0000" stroke="#a00000"/>
<circle cx="282.7" cy="85.5" r="2.0" fill="#ff0000" stroke="#a00000"/>
<circle cx="284.2" cy="90.1" r="2.0" fill="#ff0000" stroke="#a00000"/>
<circle cx="281.7" cy="97.4" r="2.0" fill="#ff0000" stroke="#a00000"/>
<circle cx="293.1" cy="94.3" r="2.0" fill="#ff0000" stroke="#a00000"/>
<circle cx="286.9" cy="103.2" r="2.0" fill="#ff0000" stroke="#a00000"/>
<circle cx="256.3" cy="104.4" r="2.0" fill="#ff6a1a" stroke="#b04000"/>
<circle cx="281.3" cy="109.4" r="2.0" fill="#9a33ee" stroke="#5a1090"/>
<circle cx="238.0" cy="82.8" r="2.0" fill="#9a9a9a" stroke="#555555"/>
<circle cx="195.5" cy="91.1" r="2.0" fill="#77ee11" stroke="#3f8f00"/>
<circle cx="213.6" cy="86.4" r="2.0" fill="#ffffff" stroke="#777777"/>
<circle cx="216.7" cy="95.9" r="2.0" fill="#ff6a1a" stroke="#b04000"/>
<circle cx="226.0" cy="107.9" r="2.0" fill="#77ee11" stroke="#3f8f00"/>
<circle cx="230.1" cy="108.5" r="2.0" fill="#9a33ee" stroke="#5a1090"/>
<circle cx="215.3" cy="75.0" r="2.0" fill="#9a9a9a" stroke="#555555"/>
<circle cx="229.2" cy="94.3" r="2.0" fill="#9a9a9a" stroke="#555555"/>
<circle cx="238.4" cy="105.8" r="2.0" fill="#f7dcef" stroke="#9a7f9a"/>
<circle cx="204.6" cy="115.8" r="2.0" fill="#f7dcef" stroke="#9a7f9a"/>
<circle cx="199.7" cy="110.0" r="2.0" fill="#f7dcef" stroke="#9a7f9a"/>
<circle cx="216.0" cy="122.6" r="2.0" fill="#77ee11" stroke="#3f8f00"/>
<circle cx="228.0" cy="121.0" r="2.0" fill="#ff0000" stroke="#a00000"/>
<circle cx="240.5" cy="117.8" r="2.0" fill="#000000" stroke="#000000"/>
<circle cx="252.0" cy="116.8" r="2.0" fill="#ff6a1a" stroke="#b04000"/>
<circle cx="251.2" cy="134.5" r="2.0" fill="#9a9a9a" stroke="#555555"/>
<circle cx="263.4" cy="120.8" r="2.0" fill="#2aa02a" stroke="#146414"/>
<circle cx="271.9" cy="114.1" r="2.0" fill="#ffff00" stroke="#a0a000"/>
<circle cx="281.7" cy="119.7" r="2.0" fill="#f7dcef" stroke="#9a7f9a"/>
<circle cx="282.1" cy="126.0" r="2.0" fill="#ffffa0" stroke="#a0a060"/>
<circle cx="295.2" cy="117.6" r="2.0" fill="#ffff00" stroke="#a0a000"/>
<circle cx="299.7" cy="110.4" r="2.0" fill="#5a6ab8" stroke="#2a3a80"/>
<circle cx="319.9" cy="109.4" r="2.0" fill="#ffff00" stroke="#a0a000"/>
<circle cx="325.3" cy="101.0" r="2.0" fill="#77ee11" stroke="#3f8f00"/>
<circle cx="295.5" cy="134.3" r="2.0" fill="#ff6a1a" stroke="#b04000"/>
<circle cx="291.5" cy="141.2" r="2.0" fill="#0000ff" stroke="#00008a"/>
<circle cx="287.6" cy="143.5" r="2.0" fill="#ffff00" stroke="#a0a000"/>
<circle cx="282.5" cy="148.6" r="2.0" fill="#0000ff" stroke="#00008a"/>
<circle cx="273.5" cy="149.0" r="2.0" fill="#9a33ee" stroke="#5a1090"/>
<circle cx="260.6" cy="150.6" r="2.0" fill="#f7dcef" stroke="#9a7f9a"/>
<circle cx="246.0" cy="147.5" r="2.0" fill="#77ee11" stroke="#3f8f00"/>
<circle cx="248.6" cy="152.7" r="2.0" fill="#ff0000" stroke="#a00000"/>
<circle cx="223.1" cy="148.1" r="2.0" fill="#ffff00" stroke="#a0a000"/>
<circle cx="232.4" cy="156.3" r="2.0" fill="#ffff00" stroke="#a0a000"/>
<circle cx="264.3" cy="164.9" r="2.0" fill="#0000ff" stroke="#00008a"/>
<circle cx="295.4" cy="163.7" r="2.0" fill="#ffff00" stroke="#a0a000"/>
<circle cx="320.3" cy="160.0" r="2.0" fill="#77ee11" stroke="#3f8f00"/>
<circle cx="235.4" cy="178.8" r="2.0" fill="#9a33ee" stroke="#5a1090"/>
<circle cx="219.8" cy="190.2" r="2.0" fill="#f7dcef" stroke="#9a7f9a"/>
<circle cx="222.4" cy="202.5" r="2.0" fill="#f7dcef" stroke="#9a7f9a"/>
<circle cx="237.6" cy="204.7" r="2.0" fill="#0000ff" stroke="#00008a"/>
<circle cx="245.1" cy="204.1" r="2.0" fill="#77ee11" stroke="#3f8f00"/>
<circle cx="248.3" cy="211.2" r="2.0" fill="#77ee11" stroke="#3f8f00"/>
<circle cx="261.3" cy="187.9" r="2.0" fill="#77ee11" stroke="#3f8f00"/>
<circle cx="274.9" cy="190.8" r="2.0" fill="#ffff00" stroke="#a0a000"/>
<circle cx="327.8" cy="177.2" r="2.0" fill="#77ee11" stroke="#3f8f00"/>
<circle cx="307.4" cy="187.6" r="2.0" fill="#77ee11" stroke="#3f8f00"/>
<circle cx="292.2" cy="192.4" r="2.0" fill="#77ee11" stroke="#3f8f00"/>
<circle cx="335.2" cy="192.4" r="2.0" fill="#77ee11" stroke="#3f8f00"/>
<circle cx="317.0" cy="37.3" r="2.0" fill="#77ee11" stroke="#3f8f00"/>
<circle cx="326.9" cy="44.4" r="2.0" fill="#ff0000" stroke="#a00000"/>
<circle cx="304.3" cy="57.1" r="2.0" fill="#5a6ab8" stroke="#2a3a80"/>
<circle cx="326.2" cy="57.9" r="2.0" fill="#f7dcef" stroke="#9a7f9a"/>
<circle cx="336.8" cy="67.5" r="2.0" fill="#77ee11" stroke="#3f8f00"/>
<circle cx="347.6" cy="33.0" r="2.0" fill="#77ee11" stroke="#3f8f00"/>
<circle cx="346.1" cy="50.6" r="2.0" fill="#ff0000" stroke="#a00000"/>
<circle cx="295.2" cy="76.6" r="2.0" fill="#2aa02a" stroke="#146414"/>
<circle cx="321.1" cy="75.6" r="2.0" fill="#0000ff" stroke="#00008a"/>
<circle cx="322.1" cy="79.7" r="2.0" fill="#f7dcef" stroke="#9a7f9a"/>
<circle cx="351.3" cy="74.1" r="2.0" fill="#0000ff" stroke="#00008a"/>
<circle cx="359.2" cy="84.5" r="2.0" fill="#77ee11" stroke="#3f8f00"/>
<circle cx="342.8" cy="89.6" r="2.0" fill="#77ee11" stroke="#3f8f00"/>
<circle cx="327.3" cy="67.3" r="2.0" fill="#f7dcef" stroke="#9a7f9a"/>
<circle cx="409.7" cy="43.0" r="2.0" fill="#ffff00" stroke="#a0a000"/>
<circle cx="411.8" cy="65.6" r="2.0" fill="#ff0000" stroke="#a00000"/>
<circle cx="434.0" cy="66.3" r="2.0" fill="#ff0000" stroke="#a00000"/>
<circle cx="439.0" cy="43.0" r="2.0" fill="#ff0000" stroke="#a00000"/>
<circle cx="460.7" cy="36.1" r="2.0" fill="#ffff00" stroke="#a0a000"/>
<circle cx="471.7" cy="43.0" r="2.0" fill="#ff0000" stroke="#a00000"/>
<circle cx="481.0" cy="29.0" r="2.0" fill="#ffff00" stroke="#a0a000"/>
<circle cx="446.2" cy="64.0" r="2.0" fill="#ffff00" stroke="#a0a000"/>
<circle cx="457.8" cy="62.6" r="2.0" fill="#9a33ee" stroke="#5a1090"/>
<circle cx="470.0" cy="65.5" r="2.0" fill="#ffffff" stroke="#777777"/>
<circle cx="481.5" cy="65.4" r="2.0" fill="#ffffa0" stroke="#a0a060"/>
<circle cx="488.5" cy="45.0" r="2.0" fill="#ff0000" stroke="#a00000"/>
<circle cx="505.1" cy="44.0" r="2.0" fill="#ff0000" stroke="#a00000"/>
<circle cx="529.0" cy="52.8" r="2.0" fill="#ffff00" stroke="#a0a000"/>
<circle cx="489.2" cy="61.5" r="2.0" fill="#ffff00" stroke="#a0a000"/>
<circle cx="493.2" cy="60.8" r="2.0" fill="#ffff00" stroke="#a0a000"/>
<circle cx="500.6" cy="65.3" r="2.0" fill="#9a33ee" stroke="#5a1090"/>
<circle cx="536.1" cy="67.9" r="2.0" fill="#ffff00" stroke="#a0a000"/>
<circle cx="441.6" cy="70.0" r="2.0" fill="#ff0000" stroke="#a00000"/>
<circle cx="433.8" cy="75.4" r="2.0" fill="#ff0000" stroke="#a00000"/>
<circle cx="421.3" cy="79.7" r="2.0" fill="#0000ff" stroke="#00008a"/>
<circle cx="431.0" cy="87.8" r="2.0" fill="#ff0000" stroke="#a00000"/>
<circle cx="424.9" cy="94.0" r="2.0" fill="#0000ff" stroke="#00008a"/>
<circle cx="392.1" cy="92.2" r="2.0" fill="#ffff00" stroke="#a0a000"/>
<circle cx="429.7" cy="101.1" r="2.0" fill="#ff0000" stroke="#a00000"/>
<circle cx="394.1" cy="109.6" r="2.0" fill="#ffff00" stroke="#a0a000"/>
<circle cx="461.4" cy="73.9" r="2.0" fill="#9a33ee" stroke="#5a1090"/>
<circle cx="477.0" cy="73.2" r="2.0" fill="#000000" stroke="#000000"/>
<circle cx="473.2" cy="79.1" r="2.0" fill="#77ee11" stroke="#3f8f00"/>
<circle cx="461.0" cy="86.6" r="2.0" fill="#ff6a1a" stroke="#b04000"/>
<circle cx="476.4" cy="86.8" r="2.0" fill="#0000ff" stroke="#00008a"/>
<circle cx="481.7" cy="87.6" r="2.0" fill="#ffff00" stroke="#a0a000"/>
<circle cx="451.6" cy="89.7" r="2.0" fill="#9a33ee" stroke="#5a1090"/>
<circle cx="459.8" cy="97.2" r="3.1" fill="#707070" stroke="#1a1a1a" stroke-width="1.1"/>
<circle cx="445.4" cy="101.4" r="2.0" fill="#2aa02a" stroke="#146414"/>
<circle cx="481.6" cy="98.7" r="2.0" fill="#2aa02a" stroke="#146414"/>
<circle cx="466.7" cy="106.0" r="2.0" fill="#ff6a1a" stroke="#b04000"/>
<circle cx="453.7" cy="106.8" r="2.0" fill="#f7dcef" stroke="#9a7f9a"/>
<circle cx="435.4" cy="107.7" r="2.0" fill="#0000ff" stroke="#00008a"/>
<circle cx="448.5" cy="104.6" r="2.0" fill="#5a6ab8" stroke="#2a3a80"/>
<circle cx="489.0" cy="75.0" r="2.0" fill="#0000ff" stroke="#00008a"/>
<circle cx="485.4" cy="87.0" r="2.0" fill="#ffff00" stroke="#a0a000"/>
<circle cx="488.5" cy="85.5" r="2.0" fill="#77ee11" stroke="#3f8f00"/>
<circle cx="491.6" cy="85.5" r="2.0" fill="#77ee11" stroke="#3f8f00"/>
<circle cx="489.6" cy="91.6" r="2.0" fill="#ff0000" stroke="#a00000"/>
<circle cx="506.6" cy="87.0" r="2.0" fill="#77ee11" stroke="#3f8f00"/>
<circle cx="498.5" cy="97.4" r="2.0" fill="#0000ff" stroke="#00008a"/>
<circle cx="523.2" cy="100.0" r="2.0" fill="#ffff00" stroke="#a0a000"/>
<circle cx="533.5" cy="82.0" r="2.0" fill="#ffff00" stroke="#a0a000"/>
<circle cx="536.8" cy="96.4" r="2.0" fill="#ffff00" stroke="#a0a000"/>
<circle cx="514.5" cy="69.6" r="1.3" fill="#000000" stroke="#000000"/>
<circle cx="501.7" cy="108.3" r="2.0" fill="#ff6a1a" stroke="#b04000"/>
<circle cx="423.4" cy="111.4" r="2.0" fill="#5a6ab8" stroke="#2a3a80"/>
<circle cx="431.2" cy="120.2" r="2.0" fill="#2aa02a" stroke="#146414"/>
<circle cx="422.4" cy="135.3" r="2.0" fill="#7a0a0a" stroke="#3a0000"/>
<circle cx="409.7" cy="138.0" r="2.0" fill="#77ee11" stroke="#3f8f00"/>
<circle cx="393.3" cy="123.9" r="2.0" fill="#ffff00" stroke="#a0a000"/>
<circle cx="425.9" cy="143.8" r="2.0" fill="#77ee11" stroke="#3f8f00"/>
<circle cx="436.9" cy="114.1" r="2.0" fill="#ff6a1a" stroke="#b04000"/>
<circle cx="448.5" cy="118.7" r="2.0" fill="#1f8a1f" stroke="#0f500f"/>
<circle cx="455.7" cy="117.1" r="2.0" fill="#2aa02a" stroke="#146414"/>
<circle cx="451.0" cy="126.2" r="2.0" fill="#e8c890" stroke="#907040"/>
<circle cx="464.0" cy="126.9" r="2.0" fill="#f0b030" stroke="#906000"/>
<circle cx="473.2" cy="126.4" r="2.0" fill="#1f8a1f" stroke="#0f500f"/>
<circle cx="484.8" cy="127.1" r="2.0" fill="#7a0a0a" stroke="#3a0000"/>
<circle cx="498.9" cy="128.5" r="2.0" fill="#ff0000" stroke="#a00000"/>
<circle cx="507.4" cy="124.9" r="2.0" fill="#ff0000" stroke="#a00000"/>
<circle cx="517.2" cy="136.4" r="2.0" fill="#ffff00" stroke="#a0a000"/>
<circle cx="495.4" cy="135.2" r="2.0" fill="#77ee11" stroke="#3f8f00"/>
<circle cx="490.6" cy="142.5" r="2.0" fill="#9a33ee" stroke="#5a1090"/>
<circle cx="475.0" cy="147.0" r="2.0" fill="#9a33ee" stroke="#5a1090"/>
<circle cx="504.6" cy="147.8" r="2.0" fill="#77ee11" stroke="#3f8f00"/>
<circle cx="452.0" cy="136.7" r="2.0" fill="#ff6a1a" stroke="#b04000"/>
<circle cx="462.2" cy="135.2" r="2.0" fill="#2aa02a" stroke="#146414"/>
<circle cx="454.6" cy="150.4" r="2.0" fill="#9a33ee" stroke="#5a1090"/>
<circle cx="447.9" cy="150.8" r="2.0" fill="#f9a070" stroke="#d08060"/>
<circle cx="439.0" cy="151.4" r="2.0" fill="#f9a070" stroke="#d08060"/>
<circle cx="427.6" cy="150.8" r="2.0" fill="#5a6ab8" stroke="#2a3a80"/>
<circle cx="461.4" cy="156.0" r="2.0" fill="#0000ff" stroke="#00008a"/>
<circle cx="484.4" cy="152.9" r="2.0" fill="#ff0000" stroke="#a00000"/>
<circle cx="487.5" cy="166.6" r="2.0" fill="#77ee11" stroke="#3f8f00"/>
<circle cx="505.1" cy="166.0" r="2.0" fill="#ffff00" stroke="#a0a000"/>
<circle cx="433.3" cy="168.8" r="2.0" fill="#0000ff" stroke="#00008a"/>
<circle cx="466.1" cy="169.1" r="2.0" fill="#f7dcef" stroke="#9a7f9a"/>
<circle cx="409.3" cy="166.0" r="2.0" fill="#ffff00" stroke="#a0a000"/>
<circle cx="451.3" cy="188.3" r="2.0" fill="#77ee11" stroke="#3f8f00"/>
<circle cx="477.6" cy="187.0" r="2.0" fill="#ffff00" stroke="#a0a000"/>
<circle cx="447.8" cy="199.5" r="2.0" fill="#ffff00" stroke="#a0a000"/>
<circle cx="534.1" cy="117.2" r="2.0" fill="#ffff00" stroke="#a0a000"/>
<circle cx="461.0" cy="112.4" r="1.9" fill="#77ee11" stroke="#3f8f00"/>
<circle cx="461.0" cy="115.9" r="1.9" fill="#77ee11" stroke="#3f8f00"/>
<circle cx="468.0" cy="112.4" r="1.9" fill="#77ee11" stroke="#3f8f00"/>
<circle cx="468.0" cy="115.9" r="1.9" fill="#77ee11" stroke="#3f8f00"/>
<circle cx="475.0" cy="112.4" r="1.9" fill="#77ee11" stroke="#3f8f00"/>
<circle cx="475.0" cy="115.9" r="1.9" fill="#77ee11" stroke="#3f8f00"/>
<circle cx="482.0" cy="112.4" r="1.9" fill="#77ee11" stroke="#3f8f00"/>
<circle cx="482.0" cy="115.9" r="1.9" fill="#77ee11" stroke="#3f8f00"/>
<circle cx="489.0" cy="112.4" r="1.9" fill="#77ee11" stroke="#3f8f00"/>
<circle cx="489.0" cy="115.9" r="1.9" fill="#77ee11" stroke="#3f8f00"/>
</g>
<g font-family="Liberation Sans, sans-serif" font-size="2.7" fill="#555">
<text x="72.5" y="45.1" class="l1">IndustrialUX</text>
<text x="39.7" y="67.5" class="l1">Neoware</text>
<text x="28.3" y="75.7" class="l1">Softcom Inc</text>
<text x="54.1" y="71.7" class="l1">Lumiwave</text>
<text x="86.8" y="76.3" class="l1">Unisys</text>
<text x="122.7" y="37.4" class="l1">DreamSoft</text>
<text x="136.4" y="49.8" class="l1">Infotech</text>
<text x="111.3" y="64.3" class="l1">Mobilab</text>
<text x="96.1" y="73.3" class="l1">Gamesoft</text>
<text x="158.4" y="73.8" class="l1">Netplus</text>
<text x="11.9" y="80.7" class="l1">Cytec</text>
<text x="37.2" y="90.9" class="l1">Posdata</text>
<text x="41.2" y="99.9" class="l1">Ubion</text>
<text x="63.7" y="105.0" class="l1">EyesCom</text>
<text x="10.4" y="111.8" class="l1">Mirae</text>
<text x="41.7" y="117.8" class="l1">Future Rising</text>
<text x="34.2" y="128.8" class="l1">Game Food</text>
<text x="81.3" y="110.1" class="l1">Business(ICT)Co</text>
<text x="85.9" y="121.4" class="l1">FoodHealth</text>
<text x="116.3" y="80.7" class="l1">SmartERP</text>
<text x="130.9" y="85.0" class="l1">TomorrowFantasy</text>
<text x="100.9" y="97.6" class="l1">DSS Consulting</text>
<text x="160.6" y="105.1" class="l1">Hanvit</text>
<text x="114.0" y="108.3" class="l1">Telcoware</text>
<text x="127.5" y="109.4" class="l1">Innodata</text>
<text x="100.3" y="119.1" class="l1">Webcash</text>
<text x="115.2" y="130.0" class="l1">IndustrialUX</text>
<text x="145.1" y="130.0" class="l1">Neoware</text>
<text x="94.8" y="132.4" class="l1">Softcom Inc</text>
<text x="147.1" y="140.7" class="l1">Lumiwave</text>
<text x="109.8" y="144.6" class="l1">Unisys</text>
<text x="133.4" y="145.7" class="l1">DreamSoft</text>
<text x="100.3" y="154.9" class="l1">Infotech</text>
<text x="131.0" y="156.6" class="l1">Mobilab</text>
<text x="122.7" y="159.8" class="l1">Gamesoft</text>
<text x="155.1" y="156.4" class="l1">Netplus</text>
<text x="138.7" y="174.8" class="l1">Cytec</text>
<text x="119.8" y="187.6" class="l1">Posdata</text>
<text x="103.1" y="191.9" class="l1">Ubion</text>
<text x="90.7" y="192.3" class="l1">EyesCom</text>
<text x="29.3" y="140.0" class="l1">Mirae</text>
<text x="34.7" y="150.6" class="l1">Future Rising</text>
<text x="40.2" y="158.1" class="l1">Game Food</text>
<text x="43.9" y="164.4" class="l1">Business(ICT)Co</text>
<text x="47.9" y="170.0" class="l1">FoodHealth</text>
<text x="53.1" y="175.0" class="l1">SmartERP</text>
<text x="58.4" y="179.9" class="l1">TomorrowFantasy</text>
<text x="65.2" y="185.3" class="l1">DSS Consulting</text>
<text x="54.1" y="161.1" class="l1">Hanvit</text>
<text x="67.1" y="170.0" class="l1">Telcoware</text>
<text x="81.5" y="146.6" class="l1">Innodata</text>
<text x="85.2" y="180.6" class="l1">Webcash</text>
<text x="65.6" y="196.8" class="l1">IndustrialUX</text>
<text x="83.7" y="198.8" class="l1">Neoware</text>
<text x="228.4" y="30.4">Softcom Inc</text>
<text x="260.4" y="32.7">Lumiwave</text>
<text x="272.3" y="31.7">Unisys</text>
<text x="271.2" y="48.3">DreamSoft</text>
<text x="231.1" y="53.5">Infotech</text>
<text x="285.8" y="59.7">Mobilab</text>
<text x="223.4" y="65.0">Gamesoft</text>
<text x="208.9" y="66.3">Netplus</text>
<text x="285.1" y="88.0">Cytec</text>
<text x="286.6" y="92.6">Posdata</text>
<text x="284.1" y="99.9">Ubion</text>
<text x="295.5" y="96.8">EyesCom</text>
<text x="289.3" y="105.7">Mirae</text>
<text x="197.9" y="93.6">Future Rising</text>
<text x="216.0" y="88.9">Game Food</text>
<text x="219.1" y="98.4">Business(ICT)Co</text>
<text x="217.7" y="77.5">FoodHealth</text>
<text x="218.4" y="125.1">SmartERP</text>
<text x="297.6" y="120.1">TomorrowFantasy</text>
<text x="302.1" y="112.9">DSS Consulting</text>
<text x="322.3" y="111.9">Hanvit</text>
<text x="327.7" y="103.5">Telcoware</text>
<text x="297.9" y="136.8">Innodata</text>
<text x="290.0" y="146.0">Webcash</text>
<text x="263.0" y="153.1">IndustrialUX</text>
<text x="251.0" y="155.2">Neoware</text>
<text x="225.5" y="150.6">Softcom Inc</text>
<text x="234.8" y="158.8">Lumiwave</text>
<text x="266.7" y="167.4">Unisys</text>
<text x="297.8" y="166.2">DreamSoft</text>
<text x="322.7" y="162.5">Infotech</text>
<text x="237.8" y="181.3">Mobilab</text>
<text x="222.2" y="192.7">Gamesoft</text>
<text x="224.8" y="205.0">Netplus</text>
<text x="240.0" y="207.2">Cytec</text>
<text x="247.5" y="206.6">Posdata</text>
<text x="250.7" y="213.7">Ubion</text>
<text x="263.7" y="190.4">EyesCom</text>
<text x="277.3" y="193.3">Mirae</text>
<text x="330.2" y="179.7">Future Rising</text>
<text x="309.8" y="190.1">Game Food</text>
<text x="294.6" y="194.9">Business(ICT)Co</text>
<text x="337.6" y="194.9">FoodHealth</text>
<text x="319.4" y="39.8">SmartERP</text>
<text x="329.3" y="46.9">TomorrowFantasy</text>
<text x="306.7" y="59.6">DSS Consulting</text>
<text x="328.6" y="60.4">Hanvit</text>
<text x="339.2" y="70.0">Telcoware</text>
<text x="350.0" y="35.5">Innodata</text>
<text x="348.5" y="53.1">Webcash</text>
<text x="297.6" y="79.1">IndustrialUX</text>
<text x="324.5" y="82.2">Neoware</text>
<text x="353.7" y="76.6">Softcom Inc</text>
<text x="361.6" y="87.0">Lumiwave</text>
<text x="345.2" y="92.1">Unisys</text>
<text x="412.1" y="45.5">DreamSoft</text>
<text x="414.2" y="68.1">Infotech</text>
<text x="441.4" y="45.5">Mobilab</text>
<text x="463.1" y="38.6">Gamesoft</text>
<text x="474.1" y="45.5">Netplus</text>
<text x="483.4" y="31.5">Cytec</text>
<text x="448.6" y="66.5">Posdata</text>
<text x="490.9" y="47.5">Ubion</text>
<text x="507.5" y="46.5">EyesCom</text>
<text x="531.4" y="55.3">Mirae</text>
<text x="538.5" y="70.4">Future Rising</text>
<text x="423.7" y="82.2">Game Food</text>
<text x="427.3" y="96.5">Business(ICT)Co</text>
<text x="394.5" y="94.7">FoodHealth</text>
<text x="396.5" y="112.1">SmartERP</text>
<text x="509.0" y="89.5">TomorrowFantasy</text>
<text x="500.9" y="99.9">DSS Consulting</text>
<text x="525.6" y="102.5">Hanvit</text>
<text x="535.9" y="84.5">Telcoware</text>
<text x="539.2" y="98.9">Innodata</text>
<text x="516.2" y="72.1">Webcash</text>
<text x="504.1" y="110.8">IndustrialUX</text>
<text x="412.1" y="140.5">Neoware</text>
<text x="395.7" y="126.4">Softcom Inc</text>
<text x="501.3" y="131.0">Lumiwave</text>
<text x="509.8" y="127.4">Unisys</text>
<text x="519.6" y="138.9">DreamSoft</text>
<text x="497.8" y="137.7">Infotech</text>
<text x="493.0" y="145.0">Mobilab</text>
<text x="507.0" y="150.3">Gamesoft</text>
<text x="457.0" y="152.9">Netplus</text>
<text x="463.8" y="158.5">Cytec</text>
<text x="486.8" y="155.4">Posdata</text>
<text x="489.9" y="169.1">Ubion</text>
<text x="507.5" y="168.5">EyesCom</text>
<text x="435.7" y="171.3">Mirae</text>
<text x="468.5" y="171.6">Future Rising</text>
<text x="411.7" y="168.5">Game Food</text>
<text x="453.7" y="190.8">Business(ICT)Co</text>
<text x="480.0" y="189.5">FoodHealth</text>
<text x="450.2" y="202.0">SmartERP</text>
<text x="536.5" y="119.7">TomorrowFantasy</text>
</g>

<g fill="none" stroke="#454545" stroke-width="1.2" stroke-dasharray="3.2 1.9">
<ellipse cx="52" cy="92.5" rx="36" ry="58"/>
<ellipse cx="127" cy="90.7" rx="36" ry="71.7"/>
<ellipse cx="249.7" cy="60.3" rx="22.7" ry="22.3"/>
<ellipse cx="298" cy="76" rx="27" ry="28"/>
<ellipse cx="217.5" cy="96" rx="21.5" ry="23"/>
<ellipse cx="253" cy="116" rx="21.6" ry="21"/>
<ellipse cx="291.8" cy="135.3" rx="20.3" ry="22.7"/>
</g>

<g font-family="Liberation Sans, Arial, sans-serif" font-weight="bold" fill="#111"><text x="36.98" y="49.80" font-size="8.70" textLength="29.54" lengthAdjust="spacingAndGlyphs">BLD #2</text>
<text x="129.28" y="92.80" font-size="8.70" textLength="28.94" lengthAdjust="spacingAndGlyphs">BLD #1</text>
<text x="195.66" y="45.00" font-size="5.70" textLength="21.28" lengthAdjust="spacingAndGlyphs">System</text>
<text x="195.66" y="51.00" font-size="5.70" textLength="30.58" lengthAdjust="spacingAndGlyphs">Integration</text>
<text x="200.87" y="104.20" font-size="5.50" textLength="15.16" lengthAdjust="spacingAndGlyphs">Game</text>
<text x="303.67" y="87.00" font-size="5.50" textLength="27.86" lengthAdjust="spacingAndGlyphs">Embedded</text>
<text x="303.67" y="93.00" font-size="5.50" textLength="23.86" lengthAdjust="spacingAndGlyphs">Software</text>
<text x="229.96" y="127.40" font-size="5.60" textLength="17.97" lengthAdjust="spacingAndGlyphs">Mobile</text>
<text x="229.96" y="133.30" font-size="5.60" textLength="15.57" lengthAdjust="spacingAndGlyphs">Game</text>
<text x="302.97" y="131.00" font-size="5.50" textLength="18.26" lengthAdjust="spacingAndGlyphs">Digital</text>
<text x="302.97" y="136.70" font-size="5.50" textLength="24.56" lengthAdjust="spacingAndGlyphs">Contents</text></g>
<g stroke="#444" fill="none">
<line x1="1" y1="1.5" x2="566.6" y2="1.5" stroke-width="1.3"/>
<line x1="1" y1="16.1" x2="566.6" y2="16.1" stroke-width="1.3"/>
<line x1="1" y1="218.3" x2="566.6" y2="218.3" stroke-width="1.3"/>
<line x1="1" y1="239.2" x2="566.6" y2="239.2" stroke-width="1.3"/>
<line x1="180.75" y1="1" x2="180.75" y2="240" stroke-width="1.5" stroke="#505050"/>
<line x1="376" y1="1" x2="376" y2="240" stroke-width="2" stroke="#888"/>
</g>
<g class="t"><text x="7.37" y="231.60" font-size="8.80" textLength="64.16" lengthAdjust="spacingAndGlyphs">Closeness-based</text>
<text x="74.57" y="231.60" font-size="8.80" textLength="25.16" lengthAdjust="spacingAndGlyphs">(Same</text>
<text x="101.47" y="231.60" font-size="8.80" textLength="33.26" lengthAdjust="spacingAndGlyphs">Building)</text>
<text x="136.37" y="231.60" font-size="8.80" textLength="40.16" lengthAdjust="spacingAndGlyphs">Networking</text>
<text x="215.37" y="230.90" font-size="8.90" textLength="84.07" lengthAdjust="spacingAndGlyphs">Business-Type-based</text>
<text x="301.77" y="230.90" font-size="8.90" textLength="44.27" lengthAdjust="spacingAndGlyphs">Networking</text>
<text x="407.68" y="232.60" font-size="8.70" textLength="69.24" lengthAdjust="spacingAndGlyphs">Complexity-based</text>
<text x="482.28" y="232.60" font-size="8.70" textLength="44.34" lengthAdjust="spacingAndGlyphs">Networking</text></g><g class="h"><text x="75.11" y="12.00" font-size="9.90" textLength="18.79" lengthAdjust="spacingAndGlyphs">2005</text>
<text x="270.41" y="12.00" font-size="9.90" textLength="19.29" lengthAdjust="spacingAndGlyphs">2008</text>
<text x="456.21" y="12.00" font-size="9.90" textLength="17.59" lengthAdjust="spacingAndGlyphs">2011</text></g>
</svg>
</body></html>
